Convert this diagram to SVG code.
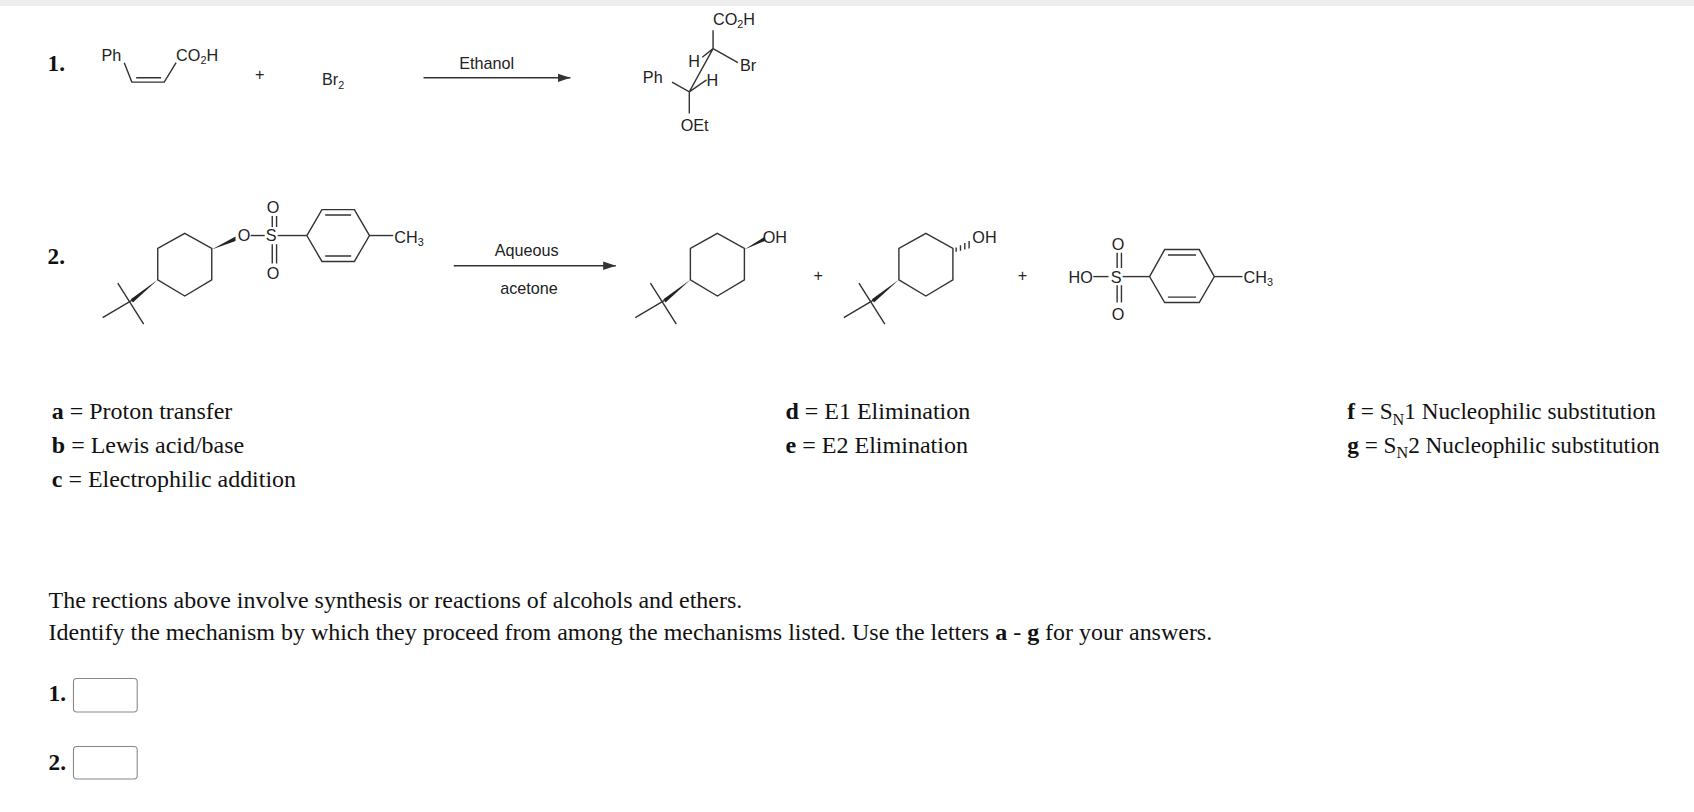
<svg xmlns="http://www.w3.org/2000/svg" width="1694" height="812" viewBox="0 0 1694 812">
<style>
.c{font-family:"Liberation Sans",Arial,sans-serif;font-size:15px;fill:#222}
.t{font-family:"Liberation Serif","Times New Roman",serif;font-size:21.5px;fill:#111}
.b{font-weight:bold}
.l{stroke:#333;stroke-width:1.3;fill:none}
.box{fill:#fff;stroke:#888;stroke-width:1;rx:3}
</style>
<defs><marker id="ah" markerWidth="10" markerHeight="8" refX="9" refY="4" orient="auto"><path d="M0,1 L9,4 L0,7z" fill="#333"/></marker></defs>
<rect width="1694" height="812" fill="#fff"/>
<rect width="1694" height="6" fill="#eee"/>
<g transform="scale(1.0804)">
<g id="r1">
<text class="t b" x="44" y="66" font-size="19">1.</text>
<text class="c" x="94" y="56">Ph</text><text class="c" x="163" y="56">CO<tspan font-size="10" dy="3">2</tspan><tspan dy="-3">H</tspan></text>
<path class="l" d="M115,58 L122,76 L152,76 L163,58 M126,72 L149,72"/>
<text class="c" x="236" y="74">+</text>
<text class="c" x="298" y="79">Br<tspan font-size="10" dy="3">2</tspan></text>
<text class="c" x="425" y="64">Ethanol</text>
</g>
<g id="p1">
<text class="c" x="660" y="23">CO<tspan font-size="10" dy="3">2</tspan><tspan dy="-3">H</tspan></text>
<path class="l" d="M660,28 L660,45 L650,53 M660,45 L683,58 M660,45 L638,85 L622,76 M638,85 L654,74 M638,85 L638,105"/>
<text class="c" x="637" y="62">H</text><text class="c" x="685" y="66">Br</text>
<text class="c" x="595" y="77">Ph</text><text class="c" x="654" y="80">H</text>
<text class="c" x="630" y="121">OEt</text>
</g>
<g id="r2">
<text class="t b" x="44" y="244" font-size="19">2.</text>
<path class="l" d="M171,216 L196,230 L196,259 L171,274 L146,259 L146,230 Z"/>
<path d="M196,231 L218,223 L218,219 Z" fill="#222"/>
<path d="M146,259 L121,277 L123,280 Z" fill="#222"/>
<path class="l" d="M109,262 L133,300 M95,294 L122,278"/>
<text class="c" x="220" y="223">O</text><path class="l" d="M232,218 L245,218"/>
<text class="c" x="246" y="223">S</text><path class="l" d="M257,218 L284,218"/>
<text class="c" x="247" y="197">O</text><text class="c" x="247" y="258">O</text>
<path class="l" d="M252,200 L252,210 M256,200 L256,210 M252,226 L252,244 M256,226 L256,244"/>
<path class="l" d="M284,218 L298,194 L328,194 L342,218 L328,242 L298,242 Z M301,199 L325,199 M301,237 L325,237"/>
<path class="l" d="M342,218 L364,218"/><text class="c" x="365" y="225">CH<tspan font-size="10" dy="3">3</tspan></text>
<text class="c" x="458" y="237">Aqueous</text><text class="c" x="463" y="272">acetone</text>
</g>
<g id="p2a">
<path class="l" d="M664,216 L689,230 L689,259 L664,274 L639,259 L639,230 Z"/>
<path d="M689,231 L708,223 L708,219 Z" fill="#222"/>
<path d="M639,259 L614,277 L616,280 Z" fill="#222"/>
<path class="l" d="M602,262 L626,300 M588,294 L615,278"/>
<text class="c" x="706" y="225">OH</text>
<text class="c" x="753" y="260">+</text>
</g>
<g id="p2b">
<path class="l" d="M857,216 L882,230 L882,259 L857,274 L832,259 L832,230 Z"/>
<path class="l" d="M885,229 L885,233 M889,227 L889,232 M893,225 L893,231 M897,223 L897,230"/>
<path d="M832,259 L807,277 L809,280 Z" fill="#222"/>
<path class="l" d="M795,262 L819,300 M781,294 L808,278"/>
<text class="c" x="900" y="225">OH</text>
<text class="c" x="942" y="260">+</text>
</g>
<g id="p2c">
<text class="c" x="989" y="262">HO</text><path class="l" d="M1012,256 L1026,256"/>
<text class="c" x="1028" y="262">S</text><path class="l" d="M1039,256 L1064,256"/>
<text class="c" x="1029" y="231">O</text><text class="c" x="1029" y="296">O</text>
<path class="l" d="M1034,234 L1034,248 M1038,234 L1038,248 M1034,264 L1034,280 M1038,264 L1038,280"/>
<path class="l" d="M1064,256 L1078,231 L1110,231 L1124,256 L1110,280 L1078,280 Z M1081,236 L1107,236 M1081,275 L1107,275"/>
<path class="l" d="M1124,256 L1150,256"/><text class="c" x="1151" y="262">CH<tspan font-size="10" dy="3">3</tspan></text>
</g>
<g id="connectors">
<path class="l" d="M392,72 L528,72" marker-end="url(#ah)"/>
<path class="l" d="M420,246 L570,246" marker-end="url(#ah)"/>
</g>
<g id="legend">
<text class="t" x="48" y="388" textLength="167" lengthAdjust="spacingAndGlyphs"><tspan class="b">a</tspan> = Proton transfer</text>
<text class="t" x="48" y="419" textLength="178" lengthAdjust="spacingAndGlyphs"><tspan class="b">b</tspan> = Lewis acid/base</text>
<text class="t" x="48" y="451" textLength="226" lengthAdjust="spacingAndGlyphs"><tspan class="b">c</tspan> = Electrophilic addition</text>
<text class="t" x="727" y="388" textLength="171" lengthAdjust="spacingAndGlyphs"><tspan class="b">d</tspan> = E1 Elimination</text>
<text class="t" x="727" y="419" textLength="169" lengthAdjust="spacingAndGlyphs"><tspan class="b">e</tspan> = E2 Elimination</text>
<text class="t" x="1247" y="388"><tspan class="b">f</tspan> = S<tspan font-size="15" dy="5">N</tspan><tspan dy="-5">1 Nucleophilic substitution</tspan></text>
<text class="t" x="1247" y="419"><tspan class="b">g</tspan> = S<tspan font-size="15" dy="5">N</tspan><tspan dy="-5">2 Nucleophilic substitution</tspan></text>
</g>
<g id="question">
<text class="t" x="45" y="563" textLength="642" lengthAdjust="spacingAndGlyphs">The rections above involve synthesis or reactions of alcohols and ethers.</text>
<text class="t" x="45" y="592" textLength="1077" lengthAdjust="spacingAndGlyphs">Identify the mechanism by which they proceed from among the mechanisms listed. Use the letters <tspan class="b">a</tspan> - <tspan class="b">g</tspan> for your answers.</text>
<text class="t b" x="45" y="649" font-size="18">1.</text>
<rect class="box" x="68" y="628" width="59" height="31"/>
<text class="t b" x="45" y="713" font-size="18">2.</text>
<rect class="box" x="68" y="691" width="59" height="30"/>
</g>
</g>
</svg>
